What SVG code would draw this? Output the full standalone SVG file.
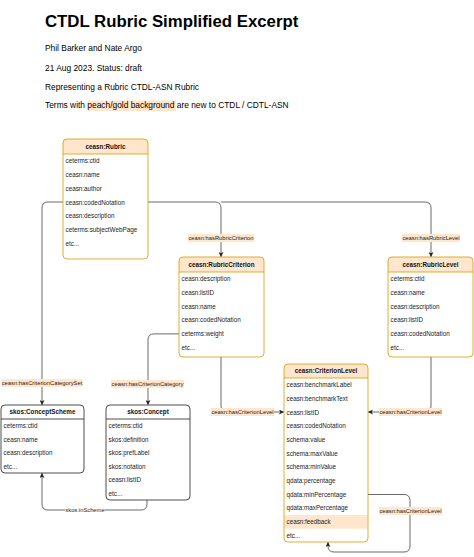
<svg xmlns="http://www.w3.org/2000/svg" width="474" height="557" viewBox="0 0 474 557">
<defs>
<style>
.title{font-family:"Liberation Sans",Arial,sans-serif;font-weight:bold;font-size:16.8px;fill:#000}
.sub{font-family:"Liberation Sans",Arial,sans-serif;font-size:8.4px;fill:#000}
.hd{font-family:"Liberation Sans",Arial,sans-serif;font-weight:bold;font-size:6.3px;fill:#111;text-anchor:middle}
.row{font-family:"Liberation Sans",Arial,sans-serif;font-size:6.3px;fill:#222}
.lbl{font-family:"Liberation Sans",Arial,sans-serif;font-size:5.8px;fill:#222;text-anchor:middle}
.body{fill:#fff}
.pk{fill:#ffe6cc}
.po{fill:none;stroke:#d79b00;stroke-width:0.8}
.bo{fill:none;stroke:#222;stroke-width:0.8}
.sepP{stroke:#d79b00;stroke-width:0.8}
.sepB{stroke:#222;stroke-width:0.8}
.edge{fill:none;stroke:#444;stroke-width:0.8}
.lbgP{fill:#ffe6cc}
.lbgW{fill:#fff}
</style>
<marker id="arr" viewBox="0 0 8 8" refX="8" refY="4" markerWidth="5" markerHeight="5" orient="auto" markerUnits="userSpaceOnUse">
<path d="M0,0 L8,4 L0,8 L2,4 z" fill="#222"/>
</marker>
</defs>
<rect width="474" height="557" fill="#fff"/>

<g id="header-text">
<text class="title" x="45" y="27">CTDL Rubric Simplified Excerpt</text>
<text class="sub" x="45" y="50.7">Phil Barker and Nate Argo</text>
<text class="sub" x="45" y="71.3">21 Aug 2023. Status: draft</text>
<text class="sub" x="45" y="89.7">Representing a Rubric CTDL-ASN Rubric</text>
<rect x="88" y="100.5" width="88" height="10.5" fill="#ffe6cc"/>
<text class="sub" x="45" y="108.3">Terms with peach/gold background are new to CTDL / CDTL-ASN</text>
</g>

<g id="connectors">
<path class="edge" d="M63,202 H48 Q42,202 42,208 V405" marker-end="url(#arr)"/>
<path class="edge" d="M148,202 H215 Q221,202 221,208 V257" marker-end="url(#arr)"/>
<path class="edge" d="M221,202 H425 Q431,202 431,208 V257" marker-end="url(#arr)"/>
<path class="edge" d="M179,333.9 H154 Q148,333.9 148,339.9 V405" marker-end="url(#arr)"/>
<path class="edge" d="M221,357 V406 Q221,412 227,412 H284" marker-end="url(#arr)"/>
<path class="edge" d="M431,357 V406 Q431,412 425,412 H368" marker-end="url(#arr)"/>
<path class="edge" d="M147,500 V504 Q147,510 141,510 H48 Q42,510 42,504 V473" marker-end="url(#arr)"/>
<path class="edge" d="M368,494.5 H404 Q410,494.5 410,500.5 V546 Q410,552 404,552 H334 Q328,552 328,546 V542" marker-end="url(#arr)"/>

<rect class="lbgP" x="1.5" y="379" width="81" height="8"/>
<text class="lbl" x="42" y="385">ceasn:hasCriterionCategorySet</text>
<rect class="lbgP" x="188" y="234" width="66" height="8"/>
<text class="lbl" x="221" y="240">ceasn:hasRubricCriterion</text>
<rect class="lbgP" x="402" y="234" width="58" height="8"/>
<text class="lbl" x="431" y="240">ceasn:hasRubricLevel</text>
<rect class="lbgP" x="111" y="380" width="73" height="8"/>
<text class="lbl" x="147.5" y="386">ceasn:hasCriterionCategory</text>
<rect class="lbgP" x="211" y="408" width="63" height="8"/>
<text class="lbl" x="242.5" y="414">ceasn:hasCriterionLevel</text>
<rect class="lbgP" x="379" y="408" width="63" height="8"/>
<text class="lbl" x="410.5" y="414">ceasn:hasCriterionLevel</text>
<rect class="lbgP" x="379" y="507" width="63" height="8"/>
<text class="lbl" x="410.5" y="513">ceasn:hasCriterionLevel</text>
<rect class="lbgW" x="65" y="506" width="40" height="8"/>
<text class="lbl" x="85" y="512">skos:inScheme</text>
</g>

<g id="node-rubric">
<rect class="body" x="63" y="139" width="85" height="120" rx="4"/>
<path class="pk" d="M63,154 V143 Q63,139 67,139 H144 Q148,139 148,143 V154 Z"/>
<line class="sepP" x1="63" y1="154" x2="148" y2="154"/>
<rect class="po" x="63" y="139" width="85" height="120" rx="4"/>
<text class="hd" x="105.5" y="148.8">ceasn:Rubric</text>
<text class="row" x="65.5" y="163.1">ceterms:ctid</text>
<text class="row" x="65.5" y="176.9">ceasn:name</text>
<text class="row" x="65.5" y="190.7">ceasn:author</text>
<text class="row" x="65.5" y="204.5">ceasn:codedNotation</text>
<text class="row" x="65.5" y="218.3">ceasn:description</text>
<text class="row" x="65.5" y="232.1">ceterms:subjectWebPage</text>
<text class="row" x="65.5" y="245.9">etc...</text>
</g>

<g id="node-rubriccriterion">
<rect class="body" x="179" y="257" width="85" height="100" rx="4"/>
<path class="pk" d="M179,272 V261 Q179,257 183,257 H260 Q264,257 264,261 V272 Z"/>
<line class="sepP" x1="179" y1="272" x2="264" y2="272"/>
<rect class="po" x="179" y="257" width="85" height="100" rx="4"/>
<text class="hd" x="221.5" y="266.8">ceasn:RubricCriterion</text>
<text class="row" x="181.5" y="281.1">ceasn:description</text>
<text class="row" x="181.5" y="294.8">ceasn:listID</text>
<text class="row" x="181.5" y="308.6">ceasn:name</text>
<text class="row" x="181.5" y="322.3">ceasn:codedNotation</text>
<text class="row" x="181.5" y="336.1">ceterms:weight</text>
<text class="row" x="181.5" y="349.8">etc...</text>
</g>

<g id="node-rubriclevel">
<rect class="body" x="388" y="257" width="85" height="100" rx="4"/>
<path class="pk" d="M388,272 V261 Q388,257 392,257 H469 Q473,257 473,261 V272 Z"/>
<line class="sepP" x1="388" y1="272" x2="473" y2="272"/>
<rect class="po" x="388" y="257" width="85" height="100" rx="4"/>
<text class="hd" x="430.5" y="266.8">ceasn:RubricLevel</text>
<text class="row" x="390.5" y="281.1">ceterms:ctid</text>
<text class="row" x="390.5" y="294.8">ceasn:name</text>
<text class="row" x="390.5" y="308.6">ceasn:description</text>
<text class="row" x="390.5" y="322.3">ceasn:listID</text>
<text class="row" x="390.5" y="336.1">ceasn:codedNotation</text>
<text class="row" x="390.5" y="349.8">etc...</text>
</g>

<g id="node-criterionlevel">
<rect class="body" x="284" y="364" width="84" height="178" rx="4"/>
<path class="pk" d="M284,378 V368 Q284,364 288,364 H364 Q368,364 368,368 V378 Z"/>
<rect class="pk" x="284.4" y="515" width="83.2" height="13.7"/>
<line class="sepP" x1="284" y1="378" x2="368" y2="378"/>
<rect class="po" x="284" y="364" width="84" height="178" rx="4"/>
<text class="hd" x="326" y="373.3">ceasn:CriterionLevel</text>
<text class="row" x="286.5" y="387.1">ceasn:benchmarkLabel</text>
<text class="row" x="286.5" y="400.8">ceasn:benchmarkText</text>
<text class="row" x="286.5" y="414.5">ceasn:listID</text>
<text class="row" x="286.5" y="428.2">ceasn:codedNotation</text>
<text class="row" x="286.5" y="441.9">schema:value</text>
<text class="row" x="286.5" y="455.6">schema:maxValue</text>
<text class="row" x="286.5" y="469.3">schema:minValue</text>
<text class="row" x="286.5" y="483">qdata:percentage</text>
<text class="row" x="286.5" y="496.7">qdata:minPercentage</text>
<text class="row" x="286.5" y="510.4">qdata:maxPercentage</text>
<text class="row" x="286.5" y="524.1">ceasn:feedback</text>
<text class="row" x="286.5" y="537.8">etc...</text>
</g>

<g id="node-conceptscheme">
<rect class="body" x="1" y="405" width="83" height="68" rx="4"/>
<line class="sepB" x1="1" y1="419" x2="84" y2="419"/>
<rect class="bo" x="1" y="405" width="83" height="68" rx="4"/>
<text class="hd" x="42.5" y="414.3">skos:ConceptScheme</text>
<text class="row" x="3.5" y="428">ceterms:ctid</text>
<text class="row" x="3.5" y="441.6">ceasn:name</text>
<text class="row" x="3.5" y="455.2">ceasn:description</text>
<text class="row" x="3.5" y="468.8">etc...</text>
</g>

<g id="node-concept">
<rect class="body" x="106" y="405" width="84" height="95" rx="4"/>
<line class="sepB" x1="106" y1="419" x2="190" y2="419"/>
<rect class="bo" x="106" y="405" width="84" height="95" rx="4"/>
<text class="hd" x="148" y="414.3">skos:Concept</text>
<text class="row" x="108.5" y="428">ceterms:ctid</text>
<text class="row" x="108.5" y="441.6">skos:definition</text>
<text class="row" x="108.5" y="455.2">skos:prefLabel</text>
<text class="row" x="108.5" y="468.8">skos:notation</text>
<text class="row" x="108.5" y="482.4">ceasn:listID</text>
<text class="row" x="108.5" y="496">etc...</text>
</g>
</svg>
